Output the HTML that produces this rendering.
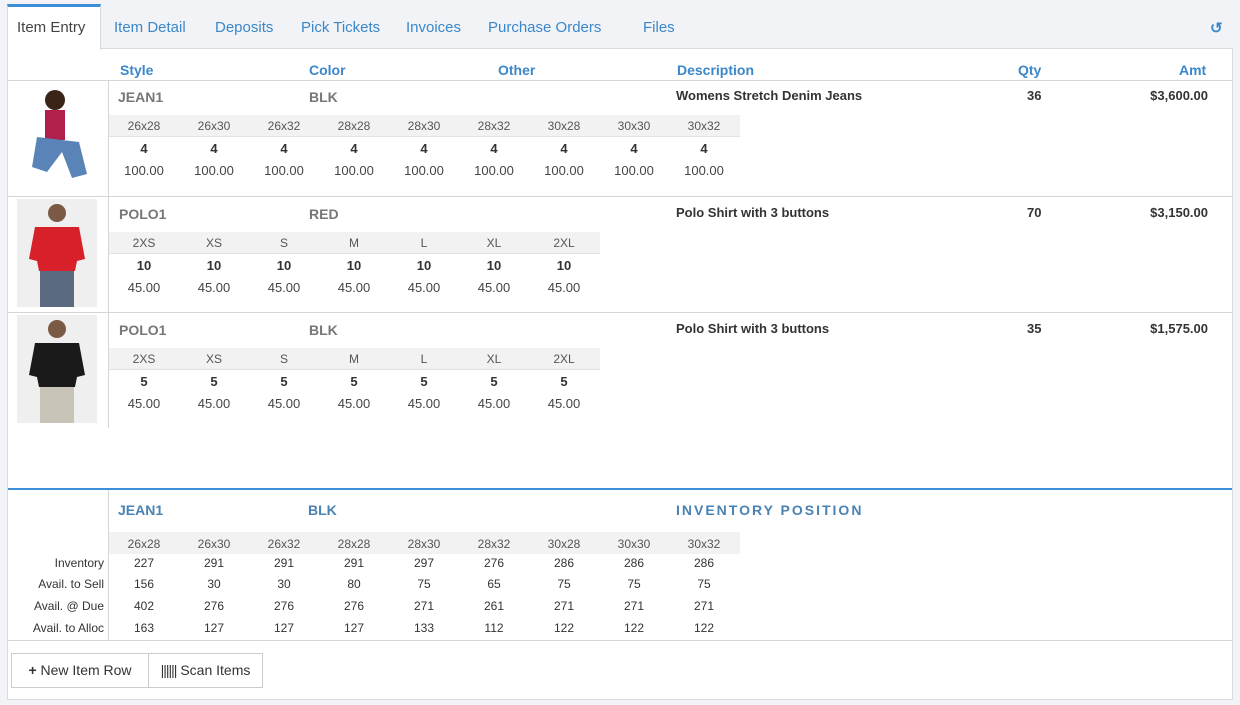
<!DOCTYPE html><html><head><style>
*{margin:0;padding:0;box-sizing:border-box}
body{width:1240px;height:705px;background:#f1f3f7;font-family:"Liberation Sans",sans-serif;position:relative;overflow:hidden;color:#333}
.a{position:absolute;white-space:nowrap}
.tab{position:absolute;top:19px;font-size:15px;color:#3b87c9}
.panel{position:absolute;left:7px;top:48px;width:1226px;height:652px;background:#fff;border:1px solid #d8dadd}
.h{font-size:14px;font-weight:bold;color:#3b87c9}
.sv{font-size:14px;font-weight:bold;color:#777}
.band{position:absolute;left:109px;height:22px;background:#f2f2f2;border-bottom:1px solid #e2e2e2}
.row{position:absolute;left:109px;display:flex;font-size:13px}
.row div{width:70px;text-align:center}
.hl{position:absolute;height:1px;background:#d5d5d5}
.vl{position:absolute;width:1px;background:#d5d5d5}
.lbl{position:absolute;right:1136px;font-size:12px;text-align:right}
</style></head><body>
<div class="a" style="left:7px;top:4px;width:94px;height:46px;background:#fff;border:1px solid #d8dadd;border-top:3px solid #3b8fd8;border-bottom:none;z-index:2"></div>
<div class="tab" style="left:17px;color:#444;z-index:3">Item Entry</div>
<div class="tab" style="left:114px">Item Detail</div>
<div class="tab" style="left:215px">Deposits</div>
<div class="tab" style="left:301px">Pick Tickets</div>
<div class="tab" style="left:406px">Invoices</div>
<div class="tab" style="left:488px">Purchase Orders</div>
<div class="tab" style="left:643px">Files</div>
<div class="tab" style="left:1210px;font-weight:bold">↺</div>
<div class="panel"></div>
<div class="a h" style="left:120px;top:62px">Style</div>
<div class="a h" style="left:309px;top:62px">Color</div>
<div class="a h" style="left:498px;top:62px">Other</div>
<div class="a h" style="left:677px;top:62px">Description</div>
<div class="a h" style="left:1018px;top:62px">Qty</div>
<div class="a h" style="left:1179px;top:62px">Amt</div>
<div class="hl" style="left:8px;top:80px;width:1224px"></div>
<div class="hl" style="left:8px;top:196px;width:1224px"></div>
<div class="hl" style="left:8px;top:312px;width:1224px"></div>
<div class="vl" style="left:108px;top:80px;height:348px"></div>
<div class="hl" style="left:8px;top:488px;width:1224px;background:#3b8fd8;height:2px"></div>
<div class="vl" style="left:108px;top:490px;height:150px"></div>
<div class="hl" style="left:8px;top:640px;width:1224px"></div>

<svg class="a" style="left:17px;top:82px" width="80" height="110"><circle cx="38" cy="18" r="10" fill="#3a2418"/><rect x="28" y="28" width="20" height="30" fill="#b0204a"/><path d="M20 55 L62 60 L70 92 L55 96 L45 70 L30 90 L15 85 Z" fill="#5a84b8"/></svg>
<svg class="a" style="left:17px;top:199px" width="80" height="108"><rect width="80" height="108" fill="#efefef"/><circle cx="40" cy="14" r="9" fill="#7a5a45"/><path d="M18 28 L62 28 L68 60 L60 62 L58 72 L22 72 L20 62 L12 60 Z" fill="#d8202a"/><rect x="23" y="72" width="34" height="36" fill="#5b6a80"/></svg>
<svg class="a" style="left:17px;top:315px" width="80" height="108"><rect width="80" height="108" fill="#efefef"/><circle cx="40" cy="14" r="9" fill="#7a5a45"/><path d="M18 28 L62 28 L68 60 L60 62 L58 72 L22 72 L20 62 L12 60 Z" fill="#1a1a1a"/><rect x="23" y="72" width="34" height="36" fill="#c9c4b8"/></svg>

<div class="a sv" style="left:118px;top:89px">JEAN1</div>
<div class="a sv" style="left:309px;top:89px">BLK</div>
<div class="a" style="left:676px;top:88px;font-size:13px;font-weight:bold">Womens Stretch Denim Jeans</div>
<div class="a" style="left:1027px;top:88px;font-size:13px;font-weight:bold">36</div>
<div class="a" style="left:1150px;top:88px;font-size:13px;font-weight:bold;width:58px;text-align:right">$3,600.00</div>
<div class="band" style="top:115px;width:631px"></div>
<div class="row" style="top:119px;color:#555;font-size:12px"><div>26x28</div><div>26x30</div><div>26x32</div><div>28x28</div><div>28x30</div><div>28x32</div><div>30x28</div><div>30x30</div><div>30x32</div></div>
<div class="row" style="top:141px;font-weight:bold"><div>4</div><div>4</div><div>4</div><div>4</div><div>4</div><div>4</div><div>4</div><div>4</div><div>4</div></div>
<div class="row" style="top:163px;color:#444"><div>100.00</div><div>100.00</div><div>100.00</div><div>100.00</div><div>100.00</div><div>100.00</div><div>100.00</div><div>100.00</div><div>100.00</div></div>

<div class="a sv" style="left:119px;top:206px">POLO1</div>
<div class="a sv" style="left:309px;top:206px">RED</div>
<div class="a" style="left:676px;top:205px;font-size:13px;font-weight:bold">Polo Shirt with 3 buttons</div>
<div class="a" style="left:1027px;top:205px;font-size:13px;font-weight:bold">70</div>
<div class="a" style="left:1150px;top:205px;font-size:13px;font-weight:bold;width:58px;text-align:right">$3,150.00</div>
<div class="band" style="top:232px;width:491px"></div>
<div class="row" style="top:236px;color:#555;font-size:12px"><div>2XS</div><div>XS</div><div>S</div><div>M</div><div>L</div><div>XL</div><div>2XL</div></div>
<div class="row" style="top:258px;font-weight:bold"><div>10</div><div>10</div><div>10</div><div>10</div><div>10</div><div>10</div><div>10</div></div>
<div class="row" style="top:280px;color:#444"><div>45.00</div><div>45.00</div><div>45.00</div><div>45.00</div><div>45.00</div><div>45.00</div><div>45.00</div></div>

<div class="a sv" style="left:119px;top:322px">POLO1</div>
<div class="a sv" style="left:309px;top:322px">BLK</div>
<div class="a" style="left:676px;top:321px;font-size:13px;font-weight:bold">Polo Shirt with 3 buttons</div>
<div class="a" style="left:1027px;top:321px;font-size:13px;font-weight:bold">35</div>
<div class="a" style="left:1150px;top:321px;font-size:13px;font-weight:bold;width:58px;text-align:right">$1,575.00</div>
<div class="band" style="top:348px;width:491px"></div>
<div class="row" style="top:352px;color:#555;font-size:12px"><div>2XS</div><div>XS</div><div>S</div><div>M</div><div>L</div><div>XL</div><div>2XL</div></div>
<div class="row" style="top:374px;font-weight:bold"><div>5</div><div>5</div><div>5</div><div>5</div><div>5</div><div>5</div><div>5</div></div>
<div class="row" style="top:396px;color:#444"><div>45.00</div><div>45.00</div><div>45.00</div><div>45.00</div><div>45.00</div><div>45.00</div><div>45.00</div></div>

<div class="a" style="left:118px;top:502px;font-size:14px;font-weight:bold;color:#4a82b4">JEAN1</div>
<div class="a" style="left:308px;top:502px;font-size:14px;font-weight:bold;color:#4a82b4">BLK</div>
<div class="a" style="left:676px;top:502px;font-size:14px;font-weight:bold;color:#4a82b4;letter-spacing:2px">INVENTORY POSITION</div>
<div class="band" style="top:532px;width:631px;border:none"></div>
<div class="row" style="top:537px;color:#555;font-size:12px"><div>26x28</div><div>26x30</div><div>26x32</div><div>28x28</div><div>28x30</div><div>28x32</div><div>30x28</div><div>30x30</div><div>30x32</div></div>
<div class="lbl" style="top:556px">Inventory</div>
<div class="lbl" style="top:577px">Avail. to Sell</div>
<div class="lbl" style="top:599px">Avail. @ Due</div>
<div class="lbl" style="top:621px">Avail. to Alloc</div>
<div class="row" style="top:556px;font-size:12px"><div>227</div><div>291</div><div>291</div><div>291</div><div>297</div><div>276</div><div>286</div><div>286</div><div>286</div></div>
<div class="row" style="top:577px;font-size:12px"><div>156</div><div>30</div><div>30</div><div>80</div><div>75</div><div>65</div><div>75</div><div>75</div><div>75</div></div>
<div class="row" style="top:599px;font-size:12px"><div>402</div><div>276</div><div>276</div><div>276</div><div>271</div><div>261</div><div>271</div><div>271</div><div>271</div></div>
<div class="row" style="top:621px;font-size:12px"><div>163</div><div>127</div><div>127</div><div>127</div><div>133</div><div>112</div><div>122</div><div>122</div><div>122</div></div>

<div class="a" style="left:11px;top:653px;width:138px;height:35px;border:1px solid #ccc;background:#fff;font-size:14px;line-height:33px;text-align:center"><b>+</b> New Item Row</div>
<div class="a" style="left:148px;top:653px;width:115px;height:35px;border:1px solid #ccc;background:#fff;font-size:14px;line-height:33px;text-align:center"><span style="letter-spacing:-1px">||||||</span> Scan Items</div>
</body></html>
